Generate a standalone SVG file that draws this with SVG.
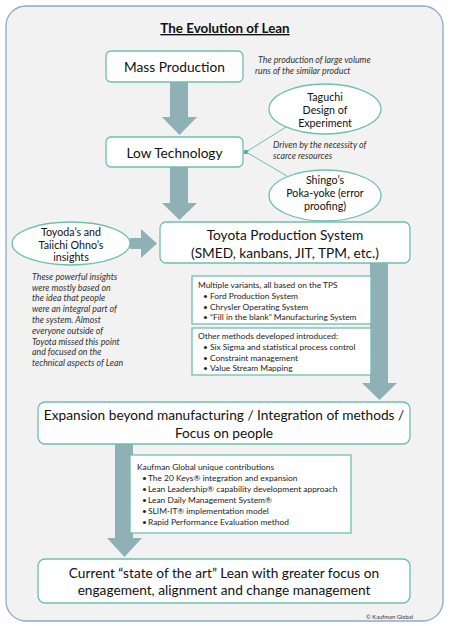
<svg xmlns="http://www.w3.org/2000/svg" width="450" height="626" viewBox="0 0 450 626">
<defs>
<style>
.box{fill:#ffffff;stroke:#6fbfb1;stroke-width:1.3}
.ell{fill:#ffffff;stroke:#6fbfb1;stroke-width:1.3}
.arr{fill:#8fb1b5;stroke:none}
.big{font-family:Lato,"Open Sans",sans-serif;font-size:13.7px;fill:#111}
.mid{font-family:Lato,"Open Sans",sans-serif;font-size:10.7px;fill:#111}
.sm{font-family:Lato,"Open Sans",sans-serif;font-size:8.4px;fill:#222}
.it{font-family:Lato,"Open Sans",sans-serif;font-size:8.8px;font-style:italic;fill:#333}
.line{stroke:#6fbfb1;stroke-width:1;fill:none}
</style>
<marker id="dia" viewBox="-4 -4 8 8" markerWidth="7" markerHeight="7" refX="0" refY="0" orient="auto" markerUnits="userSpaceOnUse">
<path d="M-3.5 0 L0 -3 L3.5 0 L0 3 Z" fill="#4faa9a"/>
</marker>
</defs>
<rect x="6" y="6" width="437" height="615" rx="20" ry="20" fill="#f2f2f2" stroke="#8aa8d0" stroke-width="1.3"/>
<text x="225" y="33" text-anchor="middle" font-family="Lato,'Open Sans',sans-serif" font-size="13.4px" font-weight="bold" text-decoration="underline" fill="#111">The Evolution of Lean</text>

<g id="connectors">
<path class="arr" d="M170 82 H188 V117 H197 L179.5 135 L162 117 H170 Z"/>
<path class="arr" d="M170 167 H188 V203 H197 L179.5 220 L162 203 H170 Z"/>
<path class="arr" d="M130 238 H141 V229 L157 243.5 L141 258 V249 H130 Z"/>
<path class="arr" d="M370 263 H388 V383 H397 L379.5 400 L362 383 H370 Z"/>
<path class="arr" d="M115 444 H133 V538 H142 L124.5 557 L107 538 H115 Z"/>
<line class="line" x1="286" y1="127" x2="246" y2="152" marker-end="url(#dia)"/>
<line class="line" x1="287" y1="176" x2="246" y2="152"/>
</g>

<g id="mass-production">
<rect class="box" x="106" y="51" width="137" height="31" rx="5"/>
<text class="big" x="174.5" y="71.5" text-anchor="middle">Mass Production</text>
</g>
<g id="mass-note">
<text class="it" x="258" y="63">The production of large volume</text>
<text class="it" x="255" y="74">runs of the similar product</text>
</g>

<g id="low-technology">
<rect class="box" x="106" y="137" width="137" height="30" rx="5"/>
<text class="big" x="174.5" y="157.5" text-anchor="middle">Low Technology</text>
</g>

<g id="taguchi">
<ellipse class="ell" cx="325" cy="109" rx="56" ry="25"/>
<text class="mid" x="325" y="101" text-anchor="middle">Taguchi</text>
<text class="mid" x="325" y="113.5" text-anchor="middle">Design of</text>
<text class="mid" x="325" y="126.5" text-anchor="middle">Experiment</text>
</g>

<g id="driven-note">
<text class="it" x="273" y="148">Driven by the necessity of</text>
<text class="it" x="273" y="159">scarce resources</text>
</g>

<g id="shingo">
<ellipse class="ell" cx="325" cy="195.5" rx="56" ry="25.5"/>
<text class="mid" x="325" y="183.5" text-anchor="middle">Shingo’s</text>
<text class="mid" x="325" y="196.5" text-anchor="middle">Poka-yoke (error</text>
<text class="mid" x="325" y="209.5" text-anchor="middle">proofing)</text>
</g>

<g id="toyoda">
<ellipse class="ell" cx="71" cy="243.5" rx="59" ry="21.5"/>
<text class="mid" x="71" y="235.5" text-anchor="middle">Toyoda’s and</text>
<text class="mid" x="71" y="248.5" text-anchor="middle">Taiichi Ohno’s</text>
<text class="mid" x="71" y="261" text-anchor="middle">insights</text>
</g>

<g id="toyoda-note">
<text class="it" x="32" y="280">These powerful insights</text>
<text class="it" x="32" y="290.5">were mostly based on</text>
<text class="it" x="32" y="301">the idea that people</text>
<text class="it" x="32" y="312">were an integral part of</text>
<text class="it" x="32" y="322.5">the system. Almost</text>
<text class="it" x="32" y="333.5">everyone outside of</text>
<text class="it" x="32" y="344.5">Toyota missed this point</text>
<text class="it" x="32" y="355">and focused on the</text>
<text class="it" x="32" y="366">technical aspects of Lean</text>
</g>

<g id="tps">
<rect class="box" x="160" y="222" width="250" height="41" rx="6"/>
<text class="big" x="285" y="240" text-anchor="middle">Toyota Production System</text>
<text class="big" x="285" y="257.5" text-anchor="middle">(SMED, kanbans, JIT, TPM, etc.)</text>
</g>

<g id="variants">
<rect class="box" x="192" y="276" width="179" height="48" rx="0"/>
<text class="sm" x="198" y="288">Multiple variants, all based on the TPS</text>
<text class="sm" x="203" y="299">•</text><text class="sm" x="210" y="299">Ford Production System</text>
<text class="sm" x="203" y="309.5">•</text><text class="sm" x="210" y="309.5">Chrysler Operating System</text>
<text class="sm" x="203" y="320">•</text><text class="sm" x="210" y="320">“Fill in the blank” Manufacturing System</text>
</g>

<g id="other-methods">
<rect class="box" x="192" y="328" width="179" height="47" rx="0"/>
<text class="sm" x="198" y="338.5">Other methods developed introduced:</text>
<text class="sm" x="203" y="349.5">•</text><text class="sm" x="210" y="349.5">Six Sigma and statistical process control</text>
<text class="sm" x="203" y="360.5">•</text><text class="sm" x="210" y="360.5">Constraint management</text>
<text class="sm" x="203" y="371">•</text><text class="sm" x="210" y="371">Value Stream Mapping</text>
</g>

<g id="expansion">
<rect class="box" x="38" y="402" width="372" height="42" rx="7"/>
<text class="big" x="224" y="420" text-anchor="middle">Expansion beyond manufacturing / Integration of methods /</text>
<text class="big" x="224" y="438" text-anchor="middle">Focus on people</text>
</g>

<g id="kaufman">
<rect class="box" x="130" y="455" width="221" height="78" rx="0"/>
<text class="sm" x="137" y="470">Kaufman Global unique contributions</text>
<text class="sm" x="142" y="481">•</text><text class="sm" x="148" y="481">The 20 Keys® integration and expansion</text>
<text class="sm" x="142" y="492">•</text><text class="sm" x="148" y="492">Lean Leadership® capability development approach</text>
<text class="sm" x="142" y="503">•</text><text class="sm" x="148" y="503">Lean Daily Management System®</text>
<text class="sm" x="142" y="514">•</text><text class="sm" x="148" y="514">SLIM-IT® implementation model</text>
<text class="sm" x="142" y="525">•</text><text class="sm" x="148" y="525">Rapid Performance Evaluation method</text>
</g>

<g id="current">
<rect class="box" x="38" y="559" width="372" height="44" rx="7"/>
<text class="big" x="224" y="578" text-anchor="middle">Current “state of the art” Lean with greater focus on</text>
<text class="big" x="224" y="595" text-anchor="middle">engagement, alignment and change management</text>
</g>

<text x="413" y="619" text-anchor="end" font-family="Lato,'Open Sans',sans-serif" font-size="5.8px" fill="#333">© Kaufman Global</text>
</svg>
